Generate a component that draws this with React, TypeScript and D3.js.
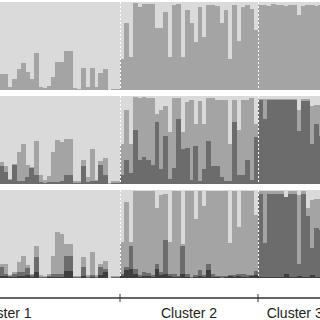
import { scaleLinear, select } from 'd3';
import React, { useEffect, useRef } from 'react';

// cluster boundaries in individual-index units (only indices 0..74 are visible)
const clusterNames = ['Cluster 1', 'Cluster 2', 'Cluster 3'];
const clusterBounds = [-26, 28, 60, 77];

// K = 2 : cumulative share of the mid-gray group (rest is light gray)
const k2Mid = [
  0.18, 0.18, 0.03, 0.125, 0.24, 0.31, 0.2, 0.125, 0.42, 0.03, 0.02, 0.045, 0.15, 0.32, 0.32, 0.44, 0.44, 0.02, 0.01, 0.25, 0.03, 0.25, 0.03, 0.19, 0.24, 0.0, 0.01, 0.01,
  0.35, 0.76, 0.37, 0.985, 0.94, 0.98, 0.98, 0.98, 0.71, 0.71, 0.89, 0.37, 0.965, 0.975, 0.37, 0.91, 0.765, 0.55, 0.94, 0.6, 0.965, 0.965, 0.955, 0.765, 0.91, 0.35, 0.965, 0.56, 0.94, 0.965, 0.92, 0.68,
  0.97, 0.97, 0.96, 0.98, 0.97, 0.97, 0.96, 0.97, 0.97, 0.85, 0.96, 0.97, 0.97, 0.96, 0.97,
];

// K = 3 : cumulative dark, dark+mid
const k3Dark = [
  0.2, 0.14, 0.04, 0.22, 0.03, 0.03, 0.08, 0.18, 0.105, 0.02, 0.01, 0.02, 0.02, 0.02, 0.03, 0.1, 0.1, 0.01, 0.01, 0.2, 0.02, 0.03, 0.03, 0.22, 0.1, 0, 0.01, 0.01,
  0.1, 0.27, 0.12, 0.61, 0.27, 0.31, 0.27, 0.22, 0.71, 0.17, 0.55, 0.06, 0.18, 0.735, 0.4, 0.41, 0.04, 0.43, 0.03, 0.17, 0.485, 0.21, 0.21, 0.08, 0.03, 0.03, 0.71, 0.1, 0.1, 0.27, 0.05, 0.53,
  0.96, 0.74, 0.95, 0.95, 0.95, 0.95, 0.95, 0.95, 0.95, 0.6, 0.94, 0.94, 0.46, 0.685, 0.55,
];
const k3Mid = [
  0.25, 0.2, 0.06, 0.23, 0.36, 0.46, 0.22, 0.19, 0.49, 0.1, 0.045, 0.09, 0.36, 0.5, 0.48, 0.51, 0.51, 0.03, 0.03, 0.27, 0.08, 0.4, 0.05, 0.26, 0.29, 0.01, 0.03, 0.03,
  0.45, 0.84, 0.45, 0.99, 0.98, 0.99, 0.98, 0.98, 0.8, 0.84, 0.89, 0.59, 0.98, 0.98, 0.59, 0.93, 0.96, 0.685, 0.94, 0.685, 0.98, 0.975, 0.96, 0.96, 0.96, 0.45, 0.95, 0.61, 0.96, 0.96, 0.975, 0.685,
  0.97, 0.97, 0.97, 0.97, 0.97, 0.97, 0.97, 0.97, 0.97, 0.84, 0.97, 0.97, 0.89, 0.9, 0.9,
];

// K = 4 : cumulative darkest, darkest+dark, +mid
const k4Darkest = [
  0.02, 0.02, 0.01, 0.01, 0.02, 0.02, 0.03, 0.01, 0.07, 0, 0, 0.01, 0.01, 0.01, 0.01, 0.08, 0.08, 0, 0, 0.02, 0, 0.01, 0, 0.03, 0.065, 0, 0, 0,
  0.02, 0.09, 0.1, 0.04, 0.01, 0.02, 0.02, 0.01, 0.1, 0.03, 0.05, 0.02, 0.01, 0.01, 0.05, 0.01, 0, 0.01, 0.02, 0.01, 0.09, 0.01, 0.01, 0, 0.01, 0.02, 0.01, 0.02, 0.01, 0.01, 0.02, 0.03,
  0.01, 0.01, 0.01, 0.01, 0.01, 0.01, 0.04, 0.01, 0.01, 0.02, 0.01, 0.01, 0.03, 0.01, 0.01,
];
const k4Dark = [
  0.12, 0.04, 0.02, 0.05, 0.065, 0.065, 0.11, 0.03, 0.235, 0.01, 0.01, 0.025, 0.04, 0.04, 0.05, 0.245, 0.245, 0.01, 0.01, 0.13, 0.01, 0.03, 0.01, 0.13, 0.1, 0, 0.01, 0.01,
  0.05, 0.13, 0.36, 0.1, 0.03, 0.065, 0.055, 0.035, 0.155, 0.065, 0.435, 0.04, 0.04, 0.02, 0.36, 0.04, 0.01, 0.035, 0.09, 0.03, 0.155, 0.04, 0.02, 0.02, 0.02, 0.035, 0.03, 0.04, 0.05, 0.03, 0.035, 0.08,
  0.96, 0.4, 0.96, 0.96, 0.96, 0.96, 0.92, 0.96, 0.96, 0.155, 0.96, 0.7, 0.34, 0.57, 0.55,
];
const k4Mid = [
  0.155, 0.155, 0.035, 0.065, 0.18, 0.255, 0.15, 0.05, 0.36, 0.03, 0.02, 0.04, 0.25, 0.525, 0.5, 0.385, 0.385, 0.02, 0.02, 0.235, 0.03, 0.295, 0.03, 0.155, 0.195, 0, 0.02, 0.02,
  0.41, 0.86, 0.41, 0.985, 0.99, 0.99, 0.99, 0.99, 0.79, 0.945, 0.95, 0.41, 0.99, 0.99, 0.385, 0.985, 0.985, 0.665, 0.985, 0.82, 0.985, 0.985, 0.985, 0.985, 0.985, 0.4, 0.985, 0.58, 0.985, 0.985, 0.985, 0.72,
  0.985, 0.985, 0.985, 0.985, 0.985, 0.985, 0.92, 0.985, 0.985, 0.945, 0.985, 0.8, 0.89, 0.9, 0.9,
];

const LIGHT = '#dadada';
const MID = '#a4a4a4';
const DARK = '#6c6c6c';
const DARKEST = '#3e3e3e';

// each panel: layers drawn from the tallest cumulative share down
const panels = [
  [{ v: k2Mid, c: MID }],
  [{ v: k3Mid, c: MID }, { v: k3Dark, c: DARK }],
  [{ v: k4Mid, c: MID }, { v: k4Dark, c: DARK }, { v: k4Darkest, c: DARKEST }],
];

export default function App() {
  const svgRef = useRef<SVGSVGElement>(null);

  useEffect(() => {
    const W = 320;
    const H = 320;
    const svg = select(svgRef.current);
    svg.selectAll('*').remove();

    const x = scaleLinear().domain([28, 60]).range([120, 258]);
    const bw = x(1) - x(0);
    const panelTop = [2, 96, 190];
    const panelH = 88;

    panels.forEach((layers, p) => {
      const y = scaleLinear().domain([0, 1]).range([panelTop[p] + panelH, panelTop[p]]);
      const g = svg.append('g').attr('shape-rendering', 'crispEdges');
      g.append('rect')
        .attr('x', 0)
        .attr('y', panelTop[p])
        .attr('width', W)
        .attr('height', panelH)
        .attr('fill', LIGHT);

      layers.forEach(layer => {
        g.selectAll(null)
          .data(layer.v)
          .join('rect')
          .attr('x', (_, i) => x(i))
          .attr('width', bw + 0.5)
          .attr('y', d => y(d))
          .attr('height', d => y(0) - y(d))
          .attr('fill', layer.c);
      });

      // white dashed cluster separators
      clusterBounds.slice(1, 3).forEach(b => {
        g.append('line')
          .attr('x1', x(b) + 0.5)
          .attr('x2', x(b) + 0.5)
          .attr('y1', panelTop[p])
          .attr('y2', panelTop[p] + panelH)
          .attr('stroke', '#ffffff')
          .attr('stroke-width', 1)
          .attr('stroke-dasharray', '2,2');
      });
    });

    // cluster axis
    const axisY = 298;
    svg.append('line')
      .attr('x1', 0)
      .attr('x2', W)
      .attr('y1', axisY)
      .attr('y2', axisY)
      .attr('stroke', '#333')
      .attr('stroke-width', 1.3);

    clusterBounds.slice(1, 3).forEach(b => {
      svg.append('line')
        .attr('x1', x(b))
        .attr('x2', x(b))
        .attr('y1', axisY - 4)
        .attr('y2', axisY + 4)
        .attr('stroke', '#333')
        .attr('stroke-width', 1);
    });

    svg.selectAll('text.cluster')
      .data(clusterNames)
      .join('text')
      .attr('class', 'cluster')
      .attr('x', (_, i) => (x(clusterBounds[i]) + x(clusterBounds[i + 1])) / 2)
      .attr('y', 318)
      .attr('text-anchor', 'middle')
      .style('font-family', 'Liberation Sans, Arial, sans-serif')
      .style('font-size', '14px')
      .attr('fill', '#222')
      .text(d => d);
  }, []);

  return (
    <svg
      ref={svgRef}
      width={320}
      height={320}
      style={{ position: 'absolute', left: 0, top: 0, background: '#fff' }}
    />
  );
}
